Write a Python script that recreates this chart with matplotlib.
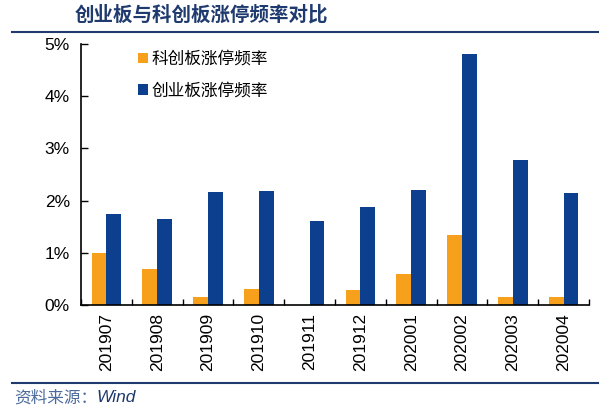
import numpy as np
import matplotlib
matplotlib.use("Agg")
import matplotlib.pyplot as plt
from matplotlib.lines import Line2D

plt.rcParams['font.family'] = ['Liberation Sans', 'Noto Sans CJK SC', 'DejaVu Sans']

# data
months = ["201907", "201908", "201909", "201910", "201911",
          "201912", "202001", "202002", "202003", "202004"]
star_rate = [1.00, 0.69, 0.16, 0.31, 0.0, 0.29, 0.59, 1.35, 0.15, 0.15]   # 科创板, %
gem_rate = [1.74, 1.64, 2.16, 2.18, 1.60, 1.87, 2.20, 4.81, 2.78, 2.15]   # 创业板, %
series_names = ["科创板涨停频率", "创业板涨停频率"]
title = "创业板与科创板涨停频率对比"
source = "资料来源："

orange = "#F7A01B"
blue = "#0C3F8E"
navy = "#1F3A6E"

fig = plt.figure(figsize=(6.13, 4.17), dpi=100)
ax = fig.add_axes([0.132, 0.2686, 0.829, 0.6259])

x = np.arange(len(months))
w = 0.29
ax.bar(x - w / 2, star_rate, w, color=orange, label=series_names[0])
ax.bar(x + w / 2, gem_rate, w, color=blue, label=series_names[1])

ax.set_xlim(-0.5, len(months) - 0.5)
ax.set_ylim(0, 5)
ax.set_yticks(range(6))
ax.set_yticklabels([f"{v}%" for v in range(6)], fontsize=12.5)
ax.set_xticks(x)
ax.set_xticklabels(months, rotation=90, fontsize=12.5)
ax.set_xticks(np.arange(len(months) + 1) - 0.5, minor=True)
ax.tick_params(axis="x", which="major", length=0, pad=6)
ax.tick_params(axis="x", which="minor", direction="in", length=4, width=1)
ax.tick_params(axis="y", direction="in", length=5, width=1, pad=8)
for s in ["top", "right"]:
    ax.spines[s].set_visible(False)
for s in ["left", "bottom"]:
    ax.spines[s].set_linewidth(1.2)

leg = ax.legend(loc="upper left", bbox_to_anchor=(0.113, 0.973), frameon=False,
                fontsize=12, handlelength=0.6, handleheight=0.6, handletextpad=0.2,
                labelspacing=0.85, borderpad=0, borderaxespad=0)
for t in leg.get_texts():
    t.set_family(['Noto Sans CJK SC', 'DejaVu Sans'])

# title and frame lines
fig.text(75 / 613, 1 - 15 / 417, title, fontsize=14, fontweight="bold", color=navy,
         va="center", ha="left", family=['Noto Sans CJK SC', 'DejaVu Sans'])
fig.add_artist(Line2D([12 / 613, 598 / 613], [1 - 32 / 417, 1 - 32 / 417],
                      color=navy, lw=1.5))
fig.add_artist(Line2D([12 / 613, 598 / 613], [1 - 383 / 417, 1 - 383 / 417],
                      color=navy, lw=1.5))
fig.text(14 / 613, 1 - 398 / 417, source, fontsize=12, color="#4B6A9B",
         va="center", ha="left", family=['Noto Sans CJK SC', 'DejaVu Sans'])
fig.text(97 / 613, 1 - 398 / 417, "Wind", fontsize=12.5, color=navy, style="italic",
         va="center", ha="left")

fig.savefig("out.png", dpi=100)
